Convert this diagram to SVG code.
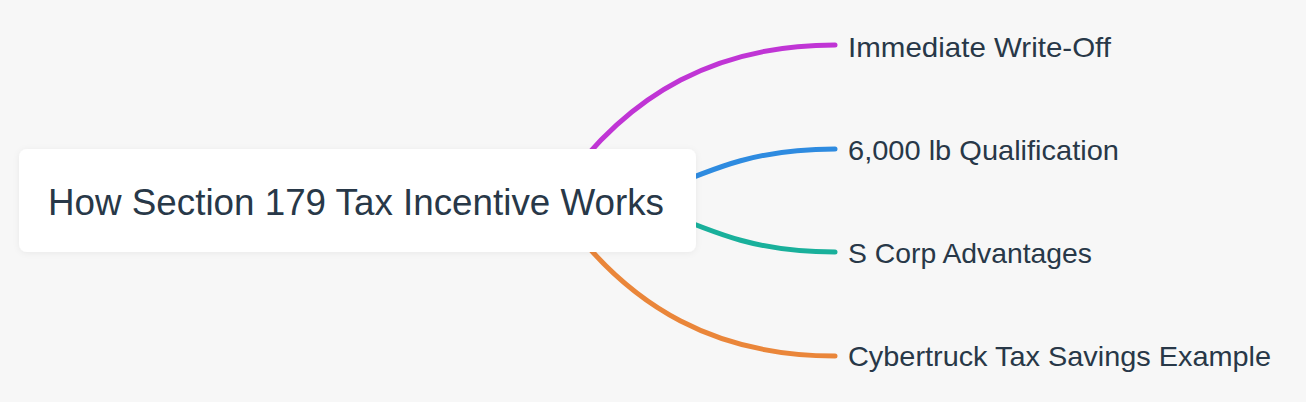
<svg xmlns="http://www.w3.org/2000/svg" width="1306" height="402" viewBox="0 0 1306 402">
  <style>
    .edge { fill: none; stroke-width: 5; stroke-linecap: round; }
    .label { font-family: "Liberation Sans", Arial, sans-serif; fill: #283848; }
    .root { font-size: 36px; }
    .child { font-size: 28px; }
  </style>
  <defs>
    <filter id="shadow" x="-5%" y="-20%" width="110%" height="140%">
      <feDropShadow dx="0" dy="1" stdDeviation="3" flood-color="#000" flood-opacity="0.06"/>
    </filter>
  </defs>
  <rect width="1306" height="402" fill="#f7f7f7"/>
  <g id="connectors">
    <path class="edge" stroke="#c035d5" d="M560,190 C630,90 720,45 835,45"/>
    <path class="edge" stroke="#2e8be0" d="M650,195 C720,165 760,149 835,149"/>
    <path class="edge" stroke="#19b09b" d="M650,206 C720,236 760,252 835,252"/>
    <path class="edge" stroke="#ea863a" d="M560,211 C630,311 720,356 835,356"/>
  </g>
  <g id="root">
    <rect x="19" y="149" width="677" height="103" rx="8" fill="#ffffff" filter="url(#shadow)"/>
    <text class="label root" x="48" y="215" textLength="616" lengthAdjust="spacingAndGlyphs">How Section 179 Tax Incentive Works</text>
  </g>
  <g id="immediate">
    <text class="label child" x="848" y="57" textLength="263" lengthAdjust="spacingAndGlyphs">Immediate Write-Off</text>
  </g>
  <g id="qualification">
    <text class="label child" x="848" y="160" textLength="271" lengthAdjust="spacingAndGlyphs">6,000 lb Qualification</text>
  </g>
  <g id="scorp">
    <text class="label child" x="848" y="263" textLength="244" lengthAdjust="spacingAndGlyphs">S Corp Advantages</text>
  </g>
  <g id="cybertruck">
    <text class="label child" x="848" y="366" textLength="423" lengthAdjust="spacingAndGlyphs">Cybertruck Tax Savings Example</text>
  </g>
</svg>
